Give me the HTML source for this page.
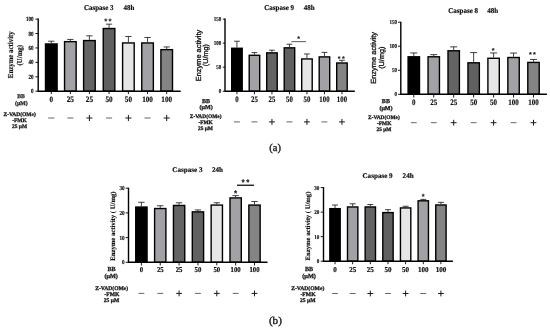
<!DOCTYPE html>
<html lang="en">
<head>
<meta charset="utf-8">
<title>Caspase enzyme activity</title>
<style>
html,body{margin:0;padding:0;background:#fff;}
body{width:550px;height:328px;overflow:hidden;}
svg{display:block;}
text{text-anchor:middle;fill:#111;stroke:#111;stroke-width:0.18px;text-rendering:geometricPrecision;}
.sb{font-family:"Liberation Serif","DejaVu Serif",serif;font-weight:bold;}
.sr{font-family:"Liberation Serif","DejaVu Serif",serif;font-weight:normal;}
.sn{font-family:"Liberation Sans","DejaVu Sans",sans-serif;font-weight:normal;stroke-width:0.3px;}
.nb{font-family:"Liberation Sans","DejaVu Sans",sans-serif;font-weight:bold;stroke-width:0.1px;}
.lb{stroke-width:0.28px;}
.cap{stroke-width:0.32px;}
.s{text-anchor:start;}
.e{text-anchor:end;}
</style>
</head>
<body>
<svg width="550" height="328" viewBox="0 0 550 328">
<rect width="550" height="328" fill="#fff"/>
<g>
<path d="M51.3 43.25V41.23M48.15 41.23H54.45" stroke="#111" stroke-width="0.8" fill="none"/>
<rect x="45.5" y="43.95" width="11.6" height="47.25" fill="#000000" stroke="#000" stroke-width="1.4"/>
<path d="M51.3 91.2V94.1" stroke="#000" stroke-width="0.9"/>
<path d="M70.35 40.95V39.43M67.2 39.43H73.5" stroke="#111" stroke-width="0.8" fill="none"/>
<rect x="64.55" y="41.65" width="11.6" height="49.55" fill="#a2a2a6" stroke="#000" stroke-width="1.4"/>
<path d="M70.35 91.2V94.1" stroke="#000" stroke-width="0.9"/>
<path d="M89.4 39.86V35.83M86.25 35.83H92.55" stroke="#111" stroke-width="0.8" fill="none"/>
<rect x="83.6" y="40.56" width="11.6" height="50.64" fill="#646464" stroke="#000" stroke-width="1.4"/>
<path d="M89.4 91.2V94.1" stroke="#000" stroke-width="0.9"/>
<path d="M109.05 27.82V24.15M105.9 24.15H112.2" stroke="#111" stroke-width="0.8" fill="none"/>
<rect x="103.25" y="28.52" width="11.6" height="62.68" fill="#606060" stroke="#000" stroke-width="1.4"/>
<path d="M109.05 91.2V94.1" stroke="#000" stroke-width="0.9"/>
<path d="M128.4 42.24V36.48M125.25 36.48H131.55" stroke="#111" stroke-width="0.8" fill="none"/>
<rect x="122.6" y="42.94" width="11.6" height="48.26" fill="#e6e6e6" stroke="#000" stroke-width="1.4"/>
<path d="M128.4 91.2V94.1" stroke="#000" stroke-width="0.9"/>
<path d="M147.55 42.24V37.49M144.4 37.49H150.7" stroke="#111" stroke-width="0.8" fill="none"/>
<rect x="141.75" y="42.94" width="11.6" height="48.26" fill="#a2a2a6" stroke="#000" stroke-width="1.4"/>
<path d="M147.55 91.2V94.1" stroke="#000" stroke-width="0.9"/>
<path d="M166.7 48.95V46.93M163.55 46.93H169.85" stroke="#111" stroke-width="0.8" fill="none"/>
<rect x="160.9" y="49.65" width="11.6" height="41.55" fill="#848484" stroke="#000" stroke-width="1.4"/>
<path d="M166.7 91.2V94.1" stroke="#000" stroke-width="0.9"/>
<path d="M38.2 18.6V91.2H180.7" stroke="#000" stroke-width="1.4" fill="none"/>
<path d="M35.4 91.2H38.2" stroke="#000" stroke-width="0.9"/>
<text class="sb e" transform="translate(33.6 93.28) scale(0.8 1)" font-size="6.3">0</text>
<path d="M35.4 76.78H38.2" stroke="#000" stroke-width="0.9"/>
<text class="sb e" transform="translate(33.6 78.86) scale(0.8 1)" font-size="6.3">20</text>
<path d="M35.4 62.36H38.2" stroke="#000" stroke-width="0.9"/>
<text class="sb e" transform="translate(33.6 64.44) scale(0.8 1)" font-size="6.3">40</text>
<path d="M35.4 47.94H38.2" stroke="#000" stroke-width="0.9"/>
<text class="sb e" transform="translate(33.6 50.02) scale(0.8 1)" font-size="6.3">60</text>
<path d="M35.4 33.52H38.2" stroke="#000" stroke-width="0.9"/>
<text class="sb e" transform="translate(33.6 35.6) scale(0.8 1)" font-size="6.3">80</text>
<path d="M35.4 19.1H38.2" stroke="#000" stroke-width="0.9"/>
<text class="sb e" transform="translate(33.6 21.18) scale(0.8 1)" font-size="6.3">100</text>
<text class="sb" transform="translate(51.3 101.5) scale(0.87 1)" font-size="8.3">0</text>
<text class="sb" transform="translate(70.35 101.5) scale(0.87 1)" font-size="8.3">25</text>
<text class="sb" transform="translate(89.4 101.5) scale(0.87 1)" font-size="8.3">25</text>
<text class="sb" transform="translate(109.05 101.5) scale(0.87 1)" font-size="8.3">50</text>
<text class="sb" transform="translate(128.4 101.5) scale(0.87 1)" font-size="8.3">50</text>
<text class="sb" transform="translate(147.55 101.5) scale(0.87 1)" font-size="8.3">100</text>
<text class="sb" transform="translate(166.7 101.5) scale(0.87 1)" font-size="8.3">100</text>
<path d="M48.25 118H54.35" stroke="#4a4a4a" stroke-width="0.85" fill="none"/>
<path d="M67.3 118H73.4" stroke="#4a4a4a" stroke-width="0.85" fill="none"/>
<path d="M86.35 118H92.45M89.4 114.95V121.05" stroke="#1a1a1a" stroke-width="1" fill="none"/>
<path d="M106 118H112.1" stroke="#4a4a4a" stroke-width="0.85" fill="none"/>
<path d="M125.35 118H131.45M128.4 114.95V121.05" stroke="#1a1a1a" stroke-width="1" fill="none"/>
<path d="M144.5 118H150.6" stroke="#4a4a4a" stroke-width="0.85" fill="none"/>
<path d="M163.65 118H169.75M166.7 114.95V121.05" stroke="#1a1a1a" stroke-width="1" fill="none"/>
<text class="sb lb" transform="translate(21.1 97.9)" font-size="5.8" style="fill:#555">BB</text>
<text class="sb lb" transform="translate(21.3 104.7)" font-size="5.8" style="fill:#333">(μM)</text>
<text class="sb lb" transform="translate(19.6 115.7)" font-size="5.5" style="fill:#1a1a1a">Z-VAD(OMe)</text>
<text class="sb lb" transform="translate(19.5 122)" font-size="5.5" style="fill:#1a1a1a">-FMK</text>
<text class="sb lb" transform="translate(19.5 128.2)" font-size="5.5" style="fill:#1a1a1a">25 μM</text>
<text class="sb s" transform="translate(84 9.6) scale(0.94 1)" font-size="7.4">Caspase 3</text>
<text class="sb s" transform="translate(123.5 9.6) scale(0.94 1)" font-size="7.4">48h</text>
<text class="sb" transform="translate(12.6 54.7) rotate(-90) scale(0.9 1)" font-size="7.6">Enzyme activity</text>
<text class="sb" transform="translate(21.6 55.2) rotate(-90) scale(0.9 1)" font-size="7.6">(U/mg)</text>
<text class="nb" transform="translate(105.8 24.29)" font-size="7.8">*</text>
<text class="nb" transform="translate(110 24.29)" font-size="7.8">*</text>
</g>
<g>
<path d="M236.95 47.58V41.23M234.05 41.23H239.85" stroke="#111" stroke-width="0.8" fill="none"/>
<rect x="231.7" y="48.28" width="10.5" height="42.97" fill="#000000" stroke="#000" stroke-width="1.4"/>
<path d="M236.95 91.25V94.25" stroke="#000" stroke-width="0.9"/>
<path d="M254.45 54.6V52.58M251.55 52.58H257.35" stroke="#111" stroke-width="0.8" fill="none"/>
<rect x="249.2" y="55.3" width="10.5" height="35.95" fill="#a2a2a6" stroke="#000" stroke-width="1.4"/>
<path d="M254.45 91.25V94.25" stroke="#000" stroke-width="0.9"/>
<path d="M271.95 52.19V50.17M269.05 50.17H274.85" stroke="#111" stroke-width="0.8" fill="none"/>
<rect x="266.7" y="52.89" width="10.5" height="38.36" fill="#646464" stroke="#000" stroke-width="1.4"/>
<path d="M271.95 91.25V94.25" stroke="#000" stroke-width="0.9"/>
<path d="M289.45 47.14V44.21M286.55 44.21H292.35" stroke="#111" stroke-width="0.8" fill="none"/>
<rect x="284.2" y="47.84" width="10.5" height="43.41" fill="#606060" stroke="#000" stroke-width="1.4"/>
<path d="M289.45 91.25V94.25" stroke="#000" stroke-width="0.9"/>
<path d="M306.95 58.25V53.97M304.05 53.97H309.85" stroke="#111" stroke-width="0.8" fill="none"/>
<rect x="301.7" y="58.95" width="10.5" height="32.3" fill="#e6e6e6" stroke="#000" stroke-width="1.4"/>
<path d="M306.95 91.25V94.25" stroke="#000" stroke-width="0.9"/>
<path d="M324.45 56.19V52.39M321.55 52.39H327.35" stroke="#111" stroke-width="0.8" fill="none"/>
<rect x="319.2" y="56.89" width="10.5" height="34.36" fill="#a2a2a6" stroke="#000" stroke-width="1.4"/>
<path d="M324.45 91.25V94.25" stroke="#000" stroke-width="0.9"/>
<path d="M341.95 62.29V60.27M339.05 60.27H344.85" stroke="#111" stroke-width="0.8" fill="none"/>
<rect x="336.7" y="62.99" width="10.5" height="28.26" fill="#848484" stroke="#000" stroke-width="1.4"/>
<path d="M341.95 91.25V94.25" stroke="#000" stroke-width="0.9"/>
<path d="M225 18.6V91.25H354.8" stroke="#000" stroke-width="1.4" fill="none"/>
<path d="M222.8 91.25H225" stroke="#000" stroke-width="0.9"/>
<text class="sb e" transform="translate(221.2 93.2) scale(0.85 1)" font-size="5.9">0</text>
<path d="M222.8 67.2H225" stroke="#000" stroke-width="0.9"/>
<text class="sb e" transform="translate(221.2 69.15) scale(0.85 1)" font-size="5.9">50</text>
<path d="M222.8 43.15H225" stroke="#000" stroke-width="0.9"/>
<text class="sb e" transform="translate(221.2 45.1) scale(0.85 1)" font-size="5.9">100</text>
<path d="M222.8 19.1H225" stroke="#000" stroke-width="0.9"/>
<text class="sb e" transform="translate(221.2 21.05) scale(0.85 1)" font-size="5.9">150</text>
<text class="sb" transform="translate(236.95 101.7) scale(0.81 1)" font-size="8.4">0</text>
<text class="sb" transform="translate(254.45 101.7) scale(0.81 1)" font-size="8.4">25</text>
<text class="sb" transform="translate(271.95 101.7) scale(0.81 1)" font-size="8.4">25</text>
<text class="sb" transform="translate(289.45 101.7) scale(0.81 1)" font-size="8.4">50</text>
<text class="sb" transform="translate(306.95 101.7) scale(0.81 1)" font-size="8.4">50</text>
<text class="sb" transform="translate(324.45 101.7) scale(0.81 1)" font-size="8.4">100</text>
<text class="sb" transform="translate(341.95 101.7) scale(0.81 1)" font-size="8.4">100</text>
<path d="M234 121.9H239.9" stroke="#4a4a4a" stroke-width="0.85" fill="none"/>
<path d="M251.5 121.9H257.4" stroke="#4a4a4a" stroke-width="0.85" fill="none"/>
<path d="M269 121.9H274.9M271.95 118.95V124.85" stroke="#1a1a1a" stroke-width="1" fill="none"/>
<path d="M286.5 121.9H292.4" stroke="#4a4a4a" stroke-width="0.85" fill="none"/>
<path d="M304 121.9H309.9M306.95 118.95V124.85" stroke="#1a1a1a" stroke-width="1" fill="none"/>
<path d="M321.5 121.9H327.4" stroke="#4a4a4a" stroke-width="0.85" fill="none"/>
<path d="M339 121.9H344.9M341.95 118.95V124.85" stroke="#1a1a1a" stroke-width="1" fill="none"/>
<text class="sb lb" transform="translate(206 102.5)" font-size="6.1" style="fill:#1a1a1a">BB</text>
<text class="sb lb" transform="translate(206.1 108.9)" font-size="6.1" style="fill:#1a1a1a">(μM)</text>
<text class="sb lb" transform="translate(205.6 118.3)" font-size="5.4" style="fill:#1a1a1a">Z-VAD(OMe)</text>
<text class="sb lb" transform="translate(205.6 124.1)" font-size="5.4" style="fill:#1a1a1a">-FMK</text>
<text class="sb lb" transform="translate(205.4 130.2)" font-size="5.4" style="fill:#1a1a1a">25 μM</text>
<text class="sb s" transform="translate(264.2 9.9) scale(0.95 1)" font-size="7.4">Caspase 9</text>
<text class="sb s" transform="translate(303.8 9.9) scale(0.95 1)" font-size="7.4">48h</text>
<text class="sn" transform="translate(200.5 55.5) rotate(-90)" font-size="7.4">Enzyme activity</text>
<text class="sn" transform="translate(208.3 55.2) rotate(-90)" font-size="7.2">(U/mg)</text>
<text class="nb" transform="translate(298.7 40.73)" font-size="7">*</text>
<text class="nb" transform="translate(339.2 61.23)" font-size="7">*</text>
<text class="nb" transform="translate(343.4 61.23)" font-size="7">*</text>
<path d="M291.4 41.6H305.9" stroke="#666" stroke-width="1.1"/>
</g>
<g>
<path d="M413.8 56.09V52.96M410.3 52.96H417.3" stroke="#111" stroke-width="0.8" fill="none"/>
<rect x="408.1" y="56.79" width="11.4" height="37.51" fill="#000000" stroke="#000" stroke-width="1.4"/>
<path d="M413.8 94.3V97.5" stroke="#000" stroke-width="0.9"/>
<path d="M433.75 56.09V54.65M430.25 54.65H437.25" stroke="#111" stroke-width="0.8" fill="none"/>
<rect x="428.05" y="56.79" width="11.4" height="37.51" fill="#a2a2a6" stroke="#000" stroke-width="1.4"/>
<path d="M433.75 94.3V97.5" stroke="#000" stroke-width="0.9"/>
<path d="M453.7 50.08V46.86M450.2 46.86H457.2" stroke="#111" stroke-width="0.8" fill="none"/>
<rect x="448" y="50.78" width="11.4" height="43.52" fill="#646464" stroke="#000" stroke-width="1.4"/>
<path d="M453.7 94.3V97.5" stroke="#000" stroke-width="0.9"/>
<path d="M473.65 62.1V52.58M470.15 52.58H477.15" stroke="#111" stroke-width="0.8" fill="none"/>
<rect x="467.95" y="62.8" width="11.4" height="31.5" fill="#606060" stroke="#000" stroke-width="1.4"/>
<path d="M473.65 94.3V97.5" stroke="#000" stroke-width="0.9"/>
<path d="M493.6 57.58V52.96M490.1 52.96H497.1" stroke="#111" stroke-width="0.8" fill="none"/>
<rect x="487.9" y="58.28" width="11.4" height="36.02" fill="#e6e6e6" stroke="#000" stroke-width="1.4"/>
<path d="M493.6 94.3V97.5" stroke="#000" stroke-width="0.9"/>
<path d="M513.55 56.81V53.06M510.05 53.06H517.05" stroke="#111" stroke-width="0.8" fill="none"/>
<rect x="507.85" y="57.51" width="11.4" height="36.79" fill="#a2a2a6" stroke="#000" stroke-width="1.4"/>
<path d="M513.55 94.3V97.5" stroke="#000" stroke-width="0.9"/>
<path d="M533.5 61.71V59.45M530 59.45H537" stroke="#111" stroke-width="0.8" fill="none"/>
<rect x="527.8" y="62.41" width="11.4" height="31.89" fill="#848484" stroke="#000" stroke-width="1.4"/>
<path d="M533.5 94.3V97.5" stroke="#000" stroke-width="0.9"/>
<path d="M400.8 21.7V94.3H546.9" stroke="#000" stroke-width="1.4" fill="none"/>
<path d="M398 94.3H400.8" stroke="#000" stroke-width="0.9"/>
<text class="sb e" transform="translate(397 96.25) scale(0.85 1)" font-size="5.9">0</text>
<path d="M398 70.27H400.8" stroke="#000" stroke-width="0.9"/>
<text class="sb e" transform="translate(397 72.21) scale(0.85 1)" font-size="5.9">50</text>
<path d="M398 46.23H400.8" stroke="#000" stroke-width="0.9"/>
<text class="sb e" transform="translate(397 48.18) scale(0.85 1)" font-size="5.9">100</text>
<path d="M398 22.2H400.8" stroke="#000" stroke-width="0.9"/>
<text class="sb e" transform="translate(397 24.15) scale(0.85 1)" font-size="5.9">150</text>
<text class="sb" transform="translate(413.8 104.6) scale(0.83 1)" font-size="8.4">0</text>
<text class="sb" transform="translate(433.75 104.6) scale(0.83 1)" font-size="8.4">25</text>
<text class="sb" transform="translate(453.7 104.6) scale(0.83 1)" font-size="8.4">25</text>
<text class="sb" transform="translate(473.65 104.6) scale(0.83 1)" font-size="8.4">50</text>
<text class="sb" transform="translate(493.6 104.6) scale(0.83 1)" font-size="8.4">50</text>
<text class="sb" transform="translate(513.55 104.6) scale(0.83 1)" font-size="8.4">100</text>
<text class="sb" transform="translate(533.5 104.6) scale(0.83 1)" font-size="8.4">100</text>
<path d="M410.9 122.7H416.7" stroke="#4a4a4a" stroke-width="0.85" fill="none"/>
<path d="M430.85 122.7H436.65" stroke="#4a4a4a" stroke-width="0.85" fill="none"/>
<path d="M450.8 122.7H456.6M453.7 119.8V125.6" stroke="#1a1a1a" stroke-width="1" fill="none"/>
<path d="M470.75 122.7H476.55" stroke="#4a4a4a" stroke-width="0.85" fill="none"/>
<path d="M490.7 122.7H496.5M493.6 119.8V125.6" stroke="#1a1a1a" stroke-width="1" fill="none"/>
<path d="M510.65 122.7H516.45" stroke="#4a4a4a" stroke-width="0.85" fill="none"/>
<path d="M530.6 122.7H536.4M533.5 119.8V125.6" stroke="#1a1a1a" stroke-width="1" fill="none"/>
<text class="sb lb" transform="translate(385.9 103)" font-size="6.1" style="fill:#1a1a1a">BB</text>
<text class="sb lb" transform="translate(386 110)" font-size="6.1" style="fill:#1a1a1a">(μM)</text>
<text class="sb lb" transform="translate(383.9 118.7)" font-size="5.4" style="fill:#1a1a1a">Z-VAD(OMe)</text>
<text class="sb lb" transform="translate(384.2 124.5)" font-size="5.4" style="fill:#1a1a1a">-FMK</text>
<text class="sb lb" transform="translate(384 130.5)" font-size="5.4" style="fill:#1a1a1a">25 μM</text>
<text class="sb s" transform="translate(448.2 12.6) scale(0.95 1)" font-size="7.4">Caspase 8</text>
<text class="sb s" transform="translate(487.3 12.6) scale(0.95 1)" font-size="7.4">48h</text>
<text class="sn" transform="translate(375.8 57.9) rotate(-90)" font-size="7.45">Enzyme activity</text>
<text class="sn" transform="translate(383.8 57.7) rotate(-90)" font-size="7.3">(U/mg)</text>
<text class="nb" transform="translate(493.1 52.74)" font-size="7.2">*</text>
<text class="nb" transform="translate(530.45 56.84)" font-size="7.2">*</text>
<text class="nb" transform="translate(534.35 56.84)" font-size="7.2">*</text>
</g>
<g>
<path d="M141.4 206.35V202.28M138.2 202.28H144.6" stroke="#111" stroke-width="0.8" fill="none"/>
<rect x="135.75" y="207.05" width="11.3" height="55.25" fill="#000000" stroke="#000" stroke-width="1.4"/>
<path d="M141.4 262.3V265.4" stroke="#000" stroke-width="0.9"/>
<path d="M160.25 207.84V205.74M157.05 205.74H163.45" stroke="#111" stroke-width="0.8" fill="none"/>
<rect x="154.6" y="208.54" width="11.3" height="53.76" fill="#a2a2a6" stroke="#000" stroke-width="1.4"/>
<path d="M160.25 262.3V265.4" stroke="#000" stroke-width="0.9"/>
<path d="M179.1 204.75V202.77M175.9 202.77H182.3" stroke="#111" stroke-width="0.8" fill="none"/>
<rect x="173.45" y="205.45" width="11.3" height="56.85" fill="#646464" stroke="#000" stroke-width="1.4"/>
<path d="M179.1 262.3V265.4" stroke="#000" stroke-width="0.9"/>
<path d="M197.95 211.17V209.94M194.75 209.94H201.15" stroke="#111" stroke-width="0.8" fill="none"/>
<rect x="192.3" y="211.87" width="11.3" height="50.43" fill="#606060" stroke="#000" stroke-width="1.4"/>
<path d="M197.95 262.3V265.4" stroke="#000" stroke-width="0.9"/>
<path d="M216.8 204.38V202.77M213.6 202.77H220" stroke="#111" stroke-width="0.8" fill="none"/>
<rect x="211.15" y="205.08" width="11.3" height="57.22" fill="#e6e6e6" stroke="#000" stroke-width="1.4"/>
<path d="M216.8 262.3V265.4" stroke="#000" stroke-width="0.9"/>
<path d="M235.65 197.22V195.61M232.45 195.61H238.85" stroke="#111" stroke-width="0.8" fill="none"/>
<rect x="230" y="197.92" width="11.3" height="64.38" fill="#a2a2a6" stroke="#000" stroke-width="1.4"/>
<path d="M235.65 262.3V265.4" stroke="#000" stroke-width="0.9"/>
<path d="M254.5 204.38V201.54M251.3 201.54H257.7" stroke="#111" stroke-width="0.8" fill="none"/>
<rect x="248.85" y="205.08" width="11.3" height="57.22" fill="#848484" stroke="#000" stroke-width="1.4"/>
<path d="M254.5 262.3V265.4" stroke="#000" stroke-width="0.9"/>
<path d="M128.5 187.7V262.3H267.5" stroke="#000" stroke-width="1.4" fill="none"/>
<path d="M125.7 262.3H128.5" stroke="#000" stroke-width="0.9"/>
<text class="sb e" transform="translate(124.7 264.31) scale(0.85 1)" font-size="6.1">0</text>
<path d="M125.7 237.6H128.5" stroke="#000" stroke-width="0.9"/>
<text class="sb e" transform="translate(124.7 239.61) scale(0.85 1)" font-size="6.1">10</text>
<path d="M125.7 212.9H128.5" stroke="#000" stroke-width="0.9"/>
<text class="sb e" transform="translate(124.7 214.91) scale(0.85 1)" font-size="6.1">20</text>
<path d="M125.7 188.2H128.5" stroke="#000" stroke-width="0.9"/>
<text class="sb e" transform="translate(124.7 190.21) scale(0.85 1)" font-size="6.1">30</text>
<text class="sb" transform="translate(141.4 272) scale(0.9 1)" font-size="7.5">0</text>
<text class="sb" transform="translate(160.25 272) scale(0.9 1)" font-size="7.5">25</text>
<text class="sb" transform="translate(179.1 272) scale(0.9 1)" font-size="7.5">25</text>
<text class="sb" transform="translate(197.95 272) scale(0.9 1)" font-size="7.5">50</text>
<text class="sb" transform="translate(216.8 272) scale(0.9 1)" font-size="7.5">50</text>
<text class="sb" transform="translate(235.65 272) scale(0.9 1)" font-size="7.5">100</text>
<text class="sb" transform="translate(254.5 272) scale(0.9 1)" font-size="7.5">100</text>
<path d="M138.5 293.4H144.3" stroke="#4a4a4a" stroke-width="0.85" fill="none"/>
<path d="M157.35 293.4H163.15" stroke="#4a4a4a" stroke-width="0.85" fill="none"/>
<path d="M176.2 293.4H182M179.1 290.5V296.3" stroke="#1a1a1a" stroke-width="1" fill="none"/>
<path d="M195.05 293.4H200.85" stroke="#4a4a4a" stroke-width="0.85" fill="none"/>
<path d="M213.9 293.4H219.7M216.8 290.5V296.3" stroke="#1a1a1a" stroke-width="1" fill="none"/>
<path d="M232.75 293.4H238.55" stroke="#4a4a4a" stroke-width="0.85" fill="none"/>
<path d="M251.6 293.4H257.4M254.5 290.5V296.3" stroke="#1a1a1a" stroke-width="1" fill="none"/>
<text class="sb lb" transform="translate(111.5 270.7)" font-size="6.2" style="fill:#1a1a1a">BB</text>
<text class="sb lb" transform="translate(111.2 277.6)" font-size="6.2" style="fill:#1a1a1a">(μM)</text>
<text class="sb lb" transform="translate(111.7 290.4)" font-size="5.6" style="fill:#1a1a1a">Z-VAD(OMe)</text>
<text class="sb lb" transform="translate(111.8 296)" font-size="5.6" style="fill:#1a1a1a">-FMK</text>
<text class="sb lb" transform="translate(111.5 301.9)" font-size="5.6" style="fill:#1a1a1a">25 μM</text>
<text class="sb s" transform="translate(172.3 171.7)" font-size="7.1">Caspase 3</text>
<text class="sb s" transform="translate(212 171.7)" font-size="7.1">24h</text>
<text class="sb" transform="translate(115.2 226.1) rotate(-90)" font-size="6.7">Enzyme activity ( U/mg)</text>
<text class="nb" transform="translate(235.7 196.02)" font-size="8.2">*</text>
<text class="nb" transform="translate(243.17 184.91)" font-size="8.2">*</text>
<text class="nb" transform="translate(247.83 184.91)" font-size="8.2">*</text>
<path d="M237 185.25H254" stroke="#111" stroke-width="1.3"/>
</g>
<g>
<path d="M335.02 207.96V205.02M332.02 205.02H338.02" stroke="#111" stroke-width="0.8" fill="none"/>
<rect x="329.85" y="208.66" width="10.35" height="52.54" fill="#000000" stroke="#000" stroke-width="1.4"/>
<path d="M335.02 261.2V264.2" stroke="#000" stroke-width="0.9"/>
<path d="M352.67 206.25V203.79M349.67 203.79H355.67" stroke="#111" stroke-width="0.8" fill="none"/>
<rect x="347.5" y="206.95" width="10.35" height="54.25" fill="#a2a2a6" stroke="#000" stroke-width="1.4"/>
<path d="M352.67 261.2V264.2" stroke="#000" stroke-width="0.9"/>
<path d="M370.32 206.25V204.53M367.32 204.53H373.32" stroke="#111" stroke-width="0.8" fill="none"/>
<rect x="365.15" y="206.95" width="10.35" height="54.25" fill="#646464" stroke="#000" stroke-width="1.4"/>
<path d="M370.32 261.2V264.2" stroke="#000" stroke-width="0.9"/>
<path d="M387.97 211.89V209.68M384.97 209.68H390.97" stroke="#111" stroke-width="0.8" fill="none"/>
<rect x="382.8" y="212.59" width="10.35" height="48.61" fill="#606060" stroke="#000" stroke-width="1.4"/>
<path d="M387.97 261.2V264.2" stroke="#000" stroke-width="0.9"/>
<path d="M405.62 207.23V206.25M402.62 206.25H408.62" stroke="#111" stroke-width="0.8" fill="none"/>
<rect x="400.45" y="207.93" width="10.35" height="53.27" fill="#e6e6e6" stroke="#000" stroke-width="1.4"/>
<path d="M405.62 261.2V264.2" stroke="#000" stroke-width="0.9"/>
<path d="M423.27 200.11V199.38M420.27 199.38H426.27" stroke="#111" stroke-width="0.8" fill="none"/>
<rect x="418.1" y="200.81" width="10.35" height="60.39" fill="#a2a2a6" stroke="#000" stroke-width="1.4"/>
<path d="M423.27 261.2V264.2" stroke="#000" stroke-width="0.9"/>
<path d="M440.92 204.28V202.32M437.92 202.32H443.92" stroke="#111" stroke-width="0.8" fill="none"/>
<rect x="435.75" y="204.98" width="10.35" height="56.22" fill="#848484" stroke="#000" stroke-width="1.4"/>
<path d="M440.92 261.2V264.2" stroke="#000" stroke-width="0.9"/>
<path d="M323.5 187.1V261.2H452.9" stroke="#000" stroke-width="1.4" fill="none"/>
<path d="M320.7 261.2H323.5" stroke="#000" stroke-width="0.9"/>
<text class="sb e" transform="translate(319.4 263.18) scale(0.85 1)" font-size="6">0</text>
<path d="M320.7 236.67H323.5" stroke="#000" stroke-width="0.9"/>
<text class="sb e" transform="translate(319.4 238.65) scale(0.85 1)" font-size="6">10</text>
<path d="M320.7 212.13H323.5" stroke="#000" stroke-width="0.9"/>
<text class="sb e" transform="translate(319.4 214.11) scale(0.85 1)" font-size="6">20</text>
<path d="M320.7 187.6H323.5" stroke="#000" stroke-width="0.9"/>
<text class="sb e" transform="translate(319.4 189.58) scale(0.85 1)" font-size="6">30</text>
<text class="sb" transform="translate(335.02 271.7) scale(0.94 1)" font-size="7.5">0</text>
<text class="sb" transform="translate(352.67 271.7) scale(0.94 1)" font-size="7.5">25</text>
<text class="sb" transform="translate(370.32 271.7) scale(0.94 1)" font-size="7.5">25</text>
<text class="sb" transform="translate(387.97 271.7) scale(0.94 1)" font-size="7.5">50</text>
<text class="sb" transform="translate(405.62 271.7) scale(0.94 1)" font-size="7.5">50</text>
<text class="sb" transform="translate(423.27 271.7) scale(0.94 1)" font-size="7.5">100</text>
<text class="sb" transform="translate(440.92 271.7) scale(0.94 1)" font-size="7.5">100</text>
<path d="M332.12 293.5H337.92" stroke="#4a4a4a" stroke-width="0.85" fill="none"/>
<path d="M349.77 293.5H355.57" stroke="#4a4a4a" stroke-width="0.85" fill="none"/>
<path d="M367.43 293.5H373.22M370.32 290.6V296.4" stroke="#1a1a1a" stroke-width="1" fill="none"/>
<path d="M385.07 293.5H390.87" stroke="#4a4a4a" stroke-width="0.85" fill="none"/>
<path d="M402.73 293.5H408.52M405.62 290.6V296.4" stroke="#1a1a1a" stroke-width="1" fill="none"/>
<path d="M420.38 293.5H426.17" stroke="#4a4a4a" stroke-width="0.85" fill="none"/>
<path d="M438.02 293.5H443.82M440.92 290.6V296.4" stroke="#1a1a1a" stroke-width="1" fill="none"/>
<text class="sb lb" transform="translate(309 270.7)" font-size="6.2" style="fill:#1a1a1a">BB</text>
<text class="sb lb" transform="translate(309.1 278)" font-size="6.3" style="fill:#1a1a1a">(μM)</text>
<text class="sb lb" transform="translate(307.7 290.3)" font-size="5.65" style="fill:#1a1a1a">Z-VAD(OMe)</text>
<text class="sb lb" transform="translate(308 296)" font-size="5.65" style="fill:#1a1a1a">-FMK</text>
<text class="sb lb" transform="translate(307.8 302)" font-size="5.65" style="fill:#1a1a1a">25 μM</text>
<text class="sb s" transform="translate(362.5 178)" font-size="7.1">Caspase 9</text>
<text class="sb s" transform="translate(402.6 178)" font-size="7.1">24h</text>
<text class="sb" transform="translate(310.3 226) rotate(-90)" font-size="6.65">Enzyme activity ( U/mg)</text>
<text class="nb" transform="translate(423.3 198.95)" font-size="7.4">*</text>
</g>
<text class="sr cap" transform="translate(275.2 150.5)" font-size="10.5">(a)</text>
<text class="sr cap" transform="translate(275.4 324.1) scale(1.05 1)" font-size="10.6">(b)</text>
</svg>
</body>
</html>
